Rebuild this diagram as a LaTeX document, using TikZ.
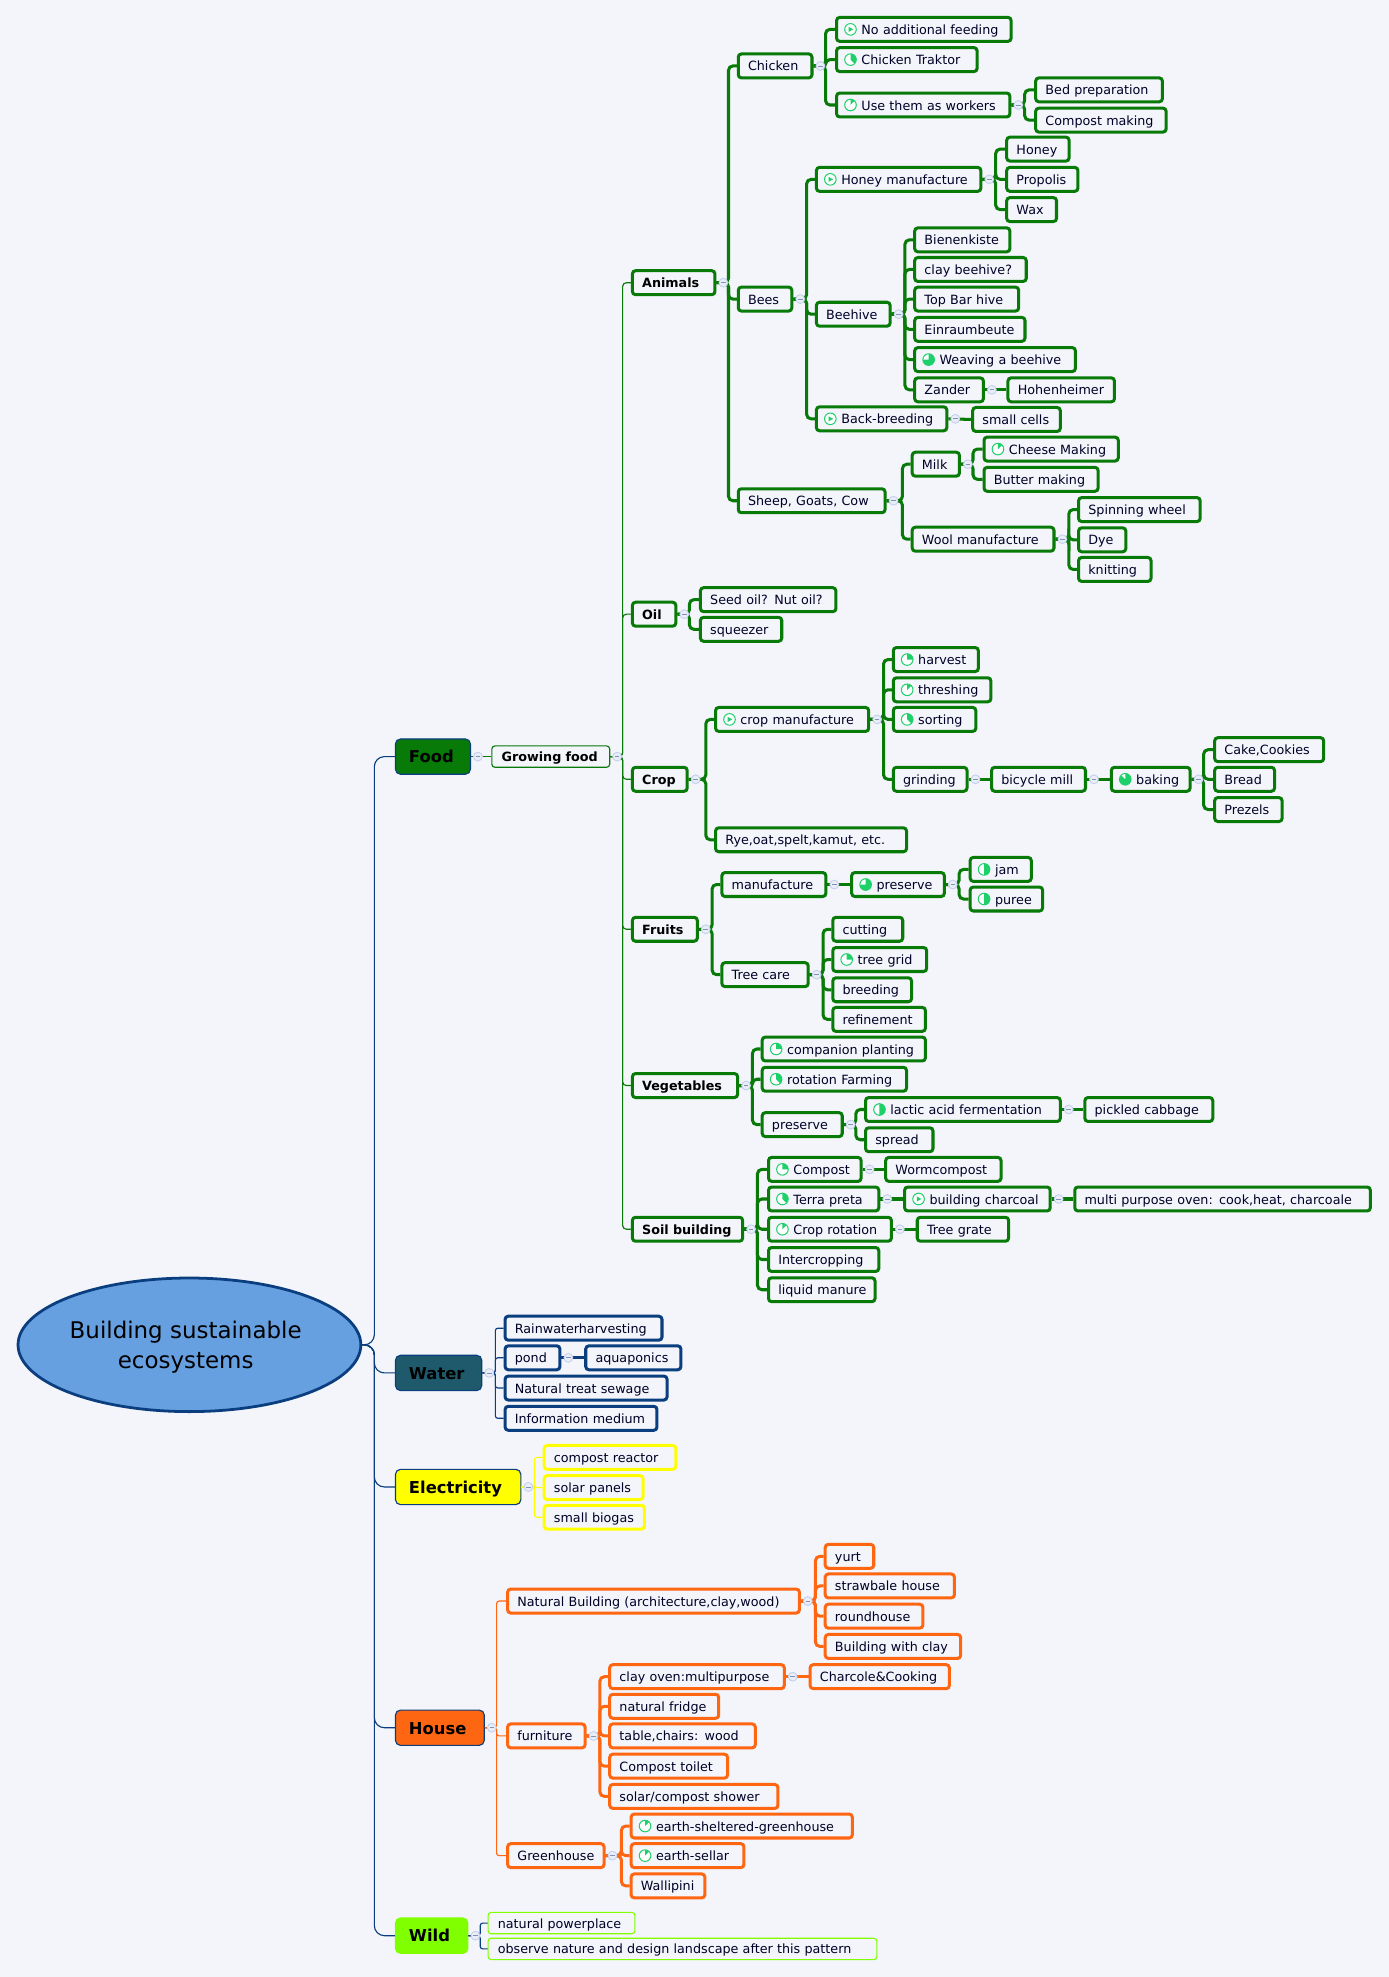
\documentclass[tikz,border=0pt]{standalone}
\usepackage{fontspec}
\setmainfont{DejaVu Sans}
\usetikzlibrary{shapes.geometric,calc}
\definecolor{bgc}{RGB}{243,245,251}
\definecolor{gr}{RGB}{7,122,7}
\definecolor{dblue}{RGB}{11,62,126}
\definecolor{orng}{RGB}{255,102,17}
\definecolor{lime}{RGB}{128,255,0}
\definecolor{yel}{RGB}{255,255,0}
\definecolor{icg}{RGB}{30,208,106}
\definecolor{colb}{RGB}{196,208,236}
\definecolor{colf}{RGB}{232,237,248}
\definecolor{colm}{RGB}{130,145,185}
\tikzset{
  box/.style={draw,rectangle,rounded corners=2.5pt,line width=2.4pt,inner xsep=7.75pt,inner ysep=0pt,
    minimum height=19pt,text height=8.5pt,text depth=0.5pt,font=\fontsize{10.1}{11}\selectfont,align=left,text=black!85!blue},
  gb/.style={box,draw=gr},
  gbb/.style={box,draw=gr,font=\fontsize{10.1}{11}\selectfont\bfseries,text=black},
  bb/.style={box,draw=dblue},
  yb/.style={box,draw=yel},
  ob/.style={box,draw=orng},
  thinbox/.style={box,line width=0.9pt,minimum height=17pt},
  top/.style={box,line width=0.9pt,draw=dblue,minimum height=28pt,rounded corners=4pt,text height=10.5pt,text depth=0.5pt,
    font=\fontsize{13}{14}\selectfont\bfseries,text=black},
  collapse/.style={circle,draw=colb,fill=colf,line width=0.7pt,minimum size=7pt,inner sep=0pt,
    path picture={\draw[colm,line width=0.6pt] (-1.8pt,0pt)--(1.8pt,0pt);}},
  thickg/.style={gr,line width=2.4pt,rounded corners=3.5pt},
  thickb/.style={dblue,line width=2.4pt,rounded corners=3.5pt},
  thicko/.style={orng,line width=2.4pt,rounded corners=3.5pt},
  thing/.style={gr,line width=0.9pt,rounded corners=3pt},
  thinb/.style={dblue,line width=0.9pt,rounded corners=2pt},
  thiny/.style={yel,line width=0.9pt,rounded corners=2pt},
  thino/.style={orng,line width=0.9pt,rounded corners=2pt},
  trunk/.style={dblue,line width=0.9pt,rounded corners=8pt},
}
% name, x1, x2, y, style, text
\newcommand\bx[6]{%
  \pgfmathsetmacro\bxX{(#2+#3)/2}\pgfmathsetmacro\bxT{#3-#2-17}\pgfmathsetmacro\bxY{#4+0.3}%
  \node[#5,text width=\bxT pt] (#1) at (\bxX,\bxY) {\mbox{#6}};}
% same with a progress icon: n eighths, or -1 for the start mark
\newcommand\bxi[7]{%
  \bx{#1}{#2}{#3}{#4}{#5}{\hspace*{12pt}#6}%
  \coordinate (#1i) at ([xshift=13pt]#1.west);
  \path (#1i) ++(-0.75pt,0pt) coordinate (#1i);
  \fill[white] (#1i) circle[radius=4.6pt];
  \ifnum#7<0
    \fill[icg] ($(#1i)+(-1.4pt,2pt)$) -- ($(#1i)+(2.2pt,0pt)$) -- ($(#1i)+(-1.4pt,-2pt)$) -- cycle;
  \else
    \fill[icg] (#1i) -- ++(0pt,4.6pt) arc[start angle=90,delta angle=-45*#7,radius=4.6pt] -- cycle;
  \fi
  \draw[icg,line width=0.8pt] (#1i) circle[radius=4.6pt];}
\newcommand\col[1]{\node[collapse] (#1c) at ([xshift=5.5pt]#1.east) {};}
\newcommand\kids[4]{%
  \coordinate (#2b) at (#3,0);
  \foreach \kd in {#4} \draw[#1] (#2.east) -- (#2.east -| #2b) |- (\kd.west);
  \col{#2}}
\newcommand\dir[3]{\draw[#1] (#2.east) -- (#3.west); \col{#2}}
\begin{document}
\begin{tikzpicture}[x=1pt,y=-1pt]
\fill[bgc] (0,0) rectangle (1102,1568.6);
\useasboundingbox (0,0) rectangle (1102,1568.6);
% root
\node[draw=dblue,fill={rgb,255:red,102;green,160;blue,224},ellipse,line width=2.2pt,minimum width=272pt,minimum height=106pt,inner sep=0pt,
  align=center,font=\fontsize{18.2}{24}\selectfont,text=black] (root) at (150.3,1067) {\rule{0pt}{17.5pt}Building sustainable\hspace*{6pt}\\ecosystems\hspace*{6pt}};
% top level
\bx{food}{313}{374}{600}{top,fill=gr}{\hspace*{3pt}Food}
\bx{water}{313}{383}{1089}{top,fill={rgb,255:red,31;green,90;blue,108}}{\hspace*{3pt}Water}
\bx{elec}{313}{414}{1179.5}{top,fill=yel}{\hspace*{3pt}Electricity}
\bx{house}{313}{385}{1370.5}{top,fill=orng}{\hspace*{3pt}House}
\bx{wild}{313}{372}{1535.5}{top,fill=lime,draw=lime}{\hspace*{3pt}Wild}
\coordinate (rootb) at (297,0);
\foreach \kd in {food,water,elec,house,wild} \draw[trunk] (root.east) -- (root.east -| rootb) |- (\kd.west);
% food
\bx{grow}{389.5}{484.5}{600}{thinbox,draw=gr,font=\fontsize{10.1}{11}\selectfont\bfseries,text=black}{Growing food}
\dir{gr,line width=0.9pt}{food}{grow}
\bx{animals}{501}{568}{224}{gbb}{Animals}
\bx{oil}{501}{537}{487}{gbb}{Oil}
\bx{crop}{501}{546}{618}{gbb}{Crop}
\bx{fruits}{501}{554}{737}{gbb}{Fruits}
\bx{veg}{501}{586}{861}{gbb}{Vegetables}
\bx{soil}{501}{590}{975}{gbb}{Soil building}
\kids{thing}{grow}{494}{animals,oil,crop,fruits,veg,soil}
% animals
\bx{chicken}{585}{645}{52}{gb}{Chicken}
\bx{bees}{585}{629}{237}{gb}{Bees}
\bx{sheep}{585}{703}{397}{gb}{Sheep, Goats, Cow}
\kids{thickg}{animals}{578}{chicken,bees,sheep}
\bxi{nofeed}{663}{803}{23}{gb}{No additional feeding}{-1}
\bxi{traktor}{663}{776}{47}{gb}{Chicken Traktor}{3}
\bxi{workers}{663}{802}{83}{gb}{Use them as workers}{1}
\kids{thickg}{chicken}{655}{nofeed,traktor,workers}
\bx{bedprep}{821}{923}{71}{gb}{Bed preparation}
\bx{compmak}{821}{926}{95}{gb}{Compost making}
\kids{thickg}{workers}{813}{bedprep,compmak}
\bxi{honeym}{647}{779}{142}{gb}{Honey manufacture}{-1}
\bx{beehive}{647}{707}{249}{gb}{Beehive}
\bxi{backb}{647}{752}{332}{gb}{Back-breeding}{-1}
\kids{thickg}{bees}{640}{honeym,beehive,backb}
\bx{honey}{798}{849}{118}{gb}{Honey}
\bx{propolis}{798}{856}{142}{gb}{Propolis}
\bx{wax}{798}{839}{166}{gb}{Wax}
\kids{thickg}{honeym}{790}{honey,propolis,wax}
\bx{bienen}{725}{802}{190}{gb}{Bienenkiste}
\bx{clayb}{725}{815}{213.5}{gb}{clay beehive?}
\bx{topbar}{725}{809}{237}{gb}{Top Bar hive}
\bx{einr}{725}{814}{261}{gb}{Einraumbeute}
\bxi{weaving}{725}{854}{285}{gb}{Weaving a beehive}{6}
\bx{zander}{725}{781}{309}{gb}{Zander}
\kids{thickg}{beehive}{718}{bienen,clayb,topbar,einr,weaving,zander}
\bx{hohen}{799}{885}{309}{gb}{Hohenheimer}
\dir{thickg}{zander}{hohen}
\bx{small}{771}{842}{332.5}{gb}{small cells}
\dir{thickg}{backb}{small}
\bx{milk}{723}{762}{368}{gb}{Milk}
\bx{wool}{723}{837}{427.5}{gb}{Wool manufacture}
\kids{thickg}{sheep}{716}{milk,wool}
\bxi{cheese}{780}{888}{356}{gb}{Cheese Making}{1}
\bx{butter}{780}{872}{380}{gb}{Butter making}
\kids{thickg}{milk}{772}{cheese,butter}
\bx{spin}{855}{953}{404}{gb}{Spinning wheel}
\bx{dye}{855}{894}{428}{gb}{Dye}
\bx{knit}{855}{914}{451.5}{gb}{knitting}
\kids{thickg}{wool}{848}{spin,dye,knit}
% oil
\bx{seed}{555}{664}{475.5}{gb}{Seed oil? Nut oil?}
\bx{squeez}{555}{621}{499}{gb}{squeezer}
\kids{thickg}{oil}{547}{seed,squeez}
% crop
\bxi{cropm}{567}{690}{570.5}{gb}{crop manufacture}{-1}
\bx{rye}{567}{720}{666}{gb}{Rye,oat,spelt,kamut, etc.}
\kids{thickg}{crop}{560}{cropm,rye}
\bxi{harvest}{708}{777}{523}{gb}{harvest}{2}
\bxi{thresh}{708}{787}{547}{gb}{threshing}{1}
\bxi{sorting}{708}{775}{570.5}{gb}{sorting}{3}
\bx{grind}{708}{768}{618}{gb}{grinding}
\kids{thickg}{cropm}{701}{harvest,thresh,sorting,grind}
\bx{bike}{786}{862}{618}{gb}{bicycle mill}
\dir{thickg}{grind}{bike}
\bxi{baking}{881}{945}{618}{gb}{baking}{7}
\dir{thickg}{bike}{baking}
\bx{cake}{963}{1051}{594.5}{gb}{Cake,Cookies}
\bx{bread}{963}{1012}{618}{gb}{Bread}
\bx{prezel}{963}{1018}{642}{gb}{Prezels}
\kids{thickg}{baking}{955}{cake,bread,prezel}
% fruits
\bx{manuf}{572}{656}{701.5}{gb}{manufacture}
\bx{tree}{572}{642}{773}{gb}{Tree care}
\kids{thickg}{fruits}{565}{manuf,tree}
\bxi{preservea}{675}{750}{701.5}{gb}{preserve}{6}
\dir{thickg}{manuf}{preservea}
\bxi{jam}{769}{819}{689.5}{gb}{jam}{4}
\bxi{puree}{769}{828}{713}{gb}{puree}{4}
\kids{thickg}{preservea}{761}{jam,puree}
\bx{cutting}{660}{717}{737}{gb}{cutting}
\bxi{grid}{660}{736}{761}{gb}{tree grid}{2}
\bx{breed}{660}{724}{785}{gb}{breeding}
\bx{refine}{660}{735}{808.5}{gb}{refinement}
\kids{thickg}{tree}{653}{cutting,grid,breed,refine}
% vegetables
\bxi{compan}{604}{735}{832}{gb}{companion planting}{2}
\bxi{rotf}{604}{720}{856}{gb}{rotation Farming}{3}
\bx{preserveb}{604}{669}{892}{gb}{preserve}
\kids{thickg}{veg}{597}{compan,rotf,preserveb}
\bxi{lactic}{686}{842}{880}{gb}{lactic acid fermentation}{4}
\bx{spread}{686}{741}{904}{gb}{spread}
\kids{thickg}{preserveb}{679}{lactic,spread}
\bx{pickled}{860}{963}{880}{gb}{pickled cabbage}
\dir{thickg}{lactic}{pickled}
% soil
\bxi{compost}{609}{684}{927.5}{gb}{Compost}{2}
\bxi{terra}{609}{698}{951}{gb}{Terra preta}{3}
\bxi{croprot}{609}{708}{975}{gb}{Crop rotation}{1}
\bx{interc}{609}{698}{999}{gb}{Intercropping}
\bx{liquid}{609}{695}{1023}{gb}{liquid manure}
\kids{thickg}{soil}{601}{compost,terra,croprot,interc,liquid}
\bx{worm}{702}{795}{927.5}{gb}{Wormcompost}
\dir{thickg}{compost}{worm}
\bxi{charcoal}{717}{834}{951}{gb}{building charcoal}{-1}
\dir{thickg}{terra}{charcoal}
\bx{oven}{852}{1088}{951}{gb}{multi purpose oven: cook,heat, charcoale}
\dir{thickg}{charcoal}{oven}
\bx{grate}{727}{801}{975}{gb}{Tree grate}
\dir{thickg}{croprot}{grate}
% water
\bx{rain}{400}{526}{1053.5}{bb}{Rainwaterharvesting}
\bx{pond}{400}{445}{1077}{bb}{pond}
\bx{natural}{400}{530}{1101}{bb}{Natural treat sewage}
\bx{info}{400}{522}{1125}{bb}{Information medium}
\kids{thinb}{water}{393}{rain,pond,natural,info}
\bx{aqua}{464}{541}{1077}{bb}{aquaponics}
\dir{thickb}{pond}{aqua}
% electricity
\bx{reactor}{431}{537}{1156}{yb}{compost reactor}
\bx{solar}{431}{511}{1180}{yb}{solar panels}
\bx{biogas}{431}{512}{1203.5}{yb}{small biogas}
\kids{thiny}{elec}{424}{reactor,solar,biogas}
% house
\bx{natb}{402}{635}{1270}{ob}{Natural Building (architecture,clay,wood)}
\bx{furn}{402}{465}{1377}{ob}{furniture}
\bx{green}{402}{480}{1472}{ob}{Greenhouse}
\kids{thino}{house}{394}{natb,furn,green}
\bx{yurt}{654}{694}{1234.5}{ob}{yurt}
\bx{straw}{654}{758}{1258}{ob}{strawbale house}
\bx{round}{654}{733}{1282}{ob}{roundhouse}
\bx{bclay}{654}{763}{1306}{ob}{Building with clay}
\kids{thicko}{natb}{647}{yurt,straw,round,bclay}
\bx{clayo}{483}{623}{1330}{ob}{clay oven:multipurpose}
\bx{fridge}{483}{571}{1353.5}{ob}{natural fridge}
\bx{table}{483}{600}{1377}{ob}{table,chairs: wood}
\bx{toilet}{483}{578}{1401}{ob}{Compost toilet}
\bx{shower}{483}{618}{1425}{ob}{solar/compost shower}
\kids{thicko}{furn}{476}{clayo,fridge,table,toilet,shower}
\bx{charc}{642}{754}{1330}{ob}{Charcole\&Cooking}
\dir{thicko}{clayo}{charc}
\bxi{shelt}{500}{677}{1448.5}{ob}{earth-sheltered-greenhouse}{1}
\bxi{sellar}{500}{591}{1472}{ob}{earth-sellar}{1}
\bx{walli}{500}{560}{1496}{ob}{Wallipini}
\kids{thicko}{green}{493}{shelt,sellar,walli}
% wild
\bx{power}{386.5}{504.5}{1525.5}{thinbox,draw=lime}{natural powerplace}
\bx{observe}{386.5}{696.5}{1546}{thinbox,draw=lime}{observe nature and design landscape after this pattern}
\kids{thinb}{wild}{381}{power,observe}
\end{tikzpicture}
\end{document}
